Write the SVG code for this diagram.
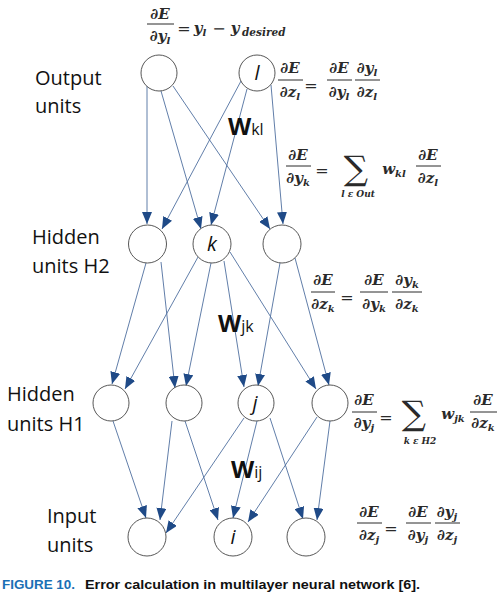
<svg xmlns="http://www.w3.org/2000/svg" width="500" height="595" viewBox="0 0 500 595">
<defs>
<marker id="ah" markerUnits="userSpaceOnUse" markerWidth="12" markerHeight="10" refX="12" refY="5" orient="auto">
<path d="M0,0 L12,5 L0,10 z" fill="#1f4a87"/>
</marker>
<style>
.node circle{fill:#fff;stroke:#444;stroke-width:0.9}
.edge{stroke:#4f6f9f;stroke-width:0.9;fill:none;marker-end:url(#ah)}
.lbl{font-family:"Open Sans","DejaVu Sans",sans-serif;font-size:20px;fill:#111}
.nl{font-family:"Open Sans","DejaVu Sans",sans-serif;font-size:20px;font-style:italic;fill:#111;text-anchor:middle}
.w{font-family:"Open Sans","DejaVu Sans",sans-serif;font-size:24px;font-weight:700;fill:#111}
.ws{font-size:16px;font-weight:400}
.m{font-family:"DejaVu Serif","Liberation Serif",serif;font-size:15px;font-style:italic;font-weight:bold;fill:#2a2a2a;text-anchor:middle}
.ms{font-family:"DejaVu Serif","Liberation Serif",serif;font-size:10.5px;font-style:italic;font-weight:bold;fill:#2a2a2a;text-anchor:start}
.mo{font-family:"DejaVu Serif","Liberation Serif",serif;font-size:16px;fill:#2a2a2a;text-anchor:middle}
.s{font-size:10px}
.fl{stroke:#2a2a2a;stroke-width:1}
.sig{font-family:"DejaVu Serif","Liberation Serif",serif;font-size:34px;fill:#2a2a2a;text-anchor:middle}
.lim{font-family:"DejaVu Serif","Liberation Serif",serif;font-size:9px;font-style:italic;font-weight:bold;fill:#2a2a2a;text-anchor:middle}
</style>
</defs>
<rect width="500" height="595" fill="#fff"/>

<g id="labels">
<text class="lbl" x="35" y="85">Output</text>
<text class="lbl" x="35" y="113">units</text>
<text class="lbl" x="32" y="244">Hidden</text>
<text class="lbl" x="32" y="273">units H2</text>
<text class="lbl" x="7" y="401">Hidden</text>
<text class="lbl" x="7" y="431">units H1</text>
<text class="lbl" x="47" y="523">Input</text>
<text class="lbl" x="47" y="552">units</text>
</g>

<g id="connectors">
<line class="edge" x1="147" y1="86" x2="147" y2="224"/>
<line class="edge" x1="161" y1="91" x2="201" y2="229"/>
<line class="edge" x1="173" y1="86" x2="270" y2="229"/>
<line class="edge" x1="241" y1="81" x2="162" y2="229"/>
<line class="edge" x1="247" y1="89" x2="211" y2="225"/>
<line class="edge" x1="271" y1="85" x2="283" y2="224"/>

<line class="edge" x1="146" y1="263" x2="112" y2="384"/>
<line class="edge" x1="161" y1="262" x2="175" y2="388"/>
<line class="edge" x1="198" y1="257" x2="125" y2="389"/>
<line class="edge" x1="211" y1="263" x2="186" y2="386"/>
<line class="edge" x1="224" y1="261" x2="244" y2="387"/>
<line class="edge" x1="230" y1="252" x2="316" y2="389"/>
<line class="edge" x1="280" y1="263" x2="258" y2="386"/>
<line class="edge" x1="295" y1="258" x2="329" y2="385"/>

<line class="edge" x1="113" y1="421" x2="146" y2="518"/>
<line class="edge" x1="172" y1="421" x2="160" y2="520"/>
<line class="edge" x1="185" y1="421" x2="218" y2="520"/>
<line class="edge" x1="244" y1="418" x2="166" y2="533"/>
<line class="edge" x1="257" y1="421" x2="233" y2="518"/>
<line class="edge" x1="270" y1="418" x2="303" y2="519"/>
<line class="edge" x1="317" y1="417" x2="248" y2="522"/>
<line class="edge" x1="330" y1="421" x2="317" y2="520"/>
</g>

<g id="node-o1" class="node"><circle cx="159" cy="73" r="18"/></g>
<g id="node-l" class="node"><circle cx="257" cy="73" r="18"/><text class="nl" x="257" y="80">l</text></g>

<g id="node-h2a" class="node"><circle cx="147.5" cy="244" r="19"/></g>
<g id="node-k" class="node"><circle cx="212" cy="244" r="19"/><text class="nl" x="212" y="251">k</text></g>
<g id="node-h2c" class="node"><circle cx="282" cy="244" r="19"/></g>

<g id="node-h1a" class="node"><circle cx="111" cy="403" r="18"/></g>
<g id="node-h1b" class="node"><circle cx="184" cy="403" r="18"/></g>
<g id="node-j" class="node"><circle cx="256" cy="403" r="18"/><text class="nl" x="255" y="410">j</text></g>
<g id="node-h1d" class="node"><circle cx="330" cy="403" r="18"/></g>

<g id="node-in1" class="node"><circle cx="147" cy="537" r="19"/></g>
<g id="node-i" class="node"><circle cx="233" cy="537" r="19"/><text class="nl" x="233" y="544">i</text></g>
<g id="node-in3" class="node"><circle cx="306" cy="537" r="19"/></g>

<g id="weights">
<text class="w" x="228" y="135">W<tspan class="ws">kl</tspan></text>
<text class="w" x="218" y="332">W<tspan class="ws">jk</tspan></text>
<text class="w" x="231" y="478">W<tspan class="ws">ij</tspan></text>
</g>

<g id="eq1">
<text class="m" x="160" y="19">∂E</text>
<line class="fl" x1="147" y1="24" x2="174" y2="24"/>
<text class="m" x="160" y="41">∂y<tspan class="s" dy="3">l</tspan></text>
<text class="mo" x="184" y="34">=</text>
<text class="m" x="200" y="33">y<tspan class="s" dy="3">l</tspan></text>
<text class="mo" x="219" y="34">−</text>
<text class="m" x="235" y="33">y</text>
<text class="ms" x="242" y="36">desired</text>
</g>

<g id="eq2">
<text class="m" x="290" y="73">∂E</text>
<line class="fl" x1="278" y1="80" x2="303" y2="80"/>
<text class="m" x="290" y="97">∂z<tspan class="s" dy="3">l</tspan></text>
<text class="mo" x="311" y="91">=</text>
<text class="m" x="339" y="73">∂E</text>
<line class="fl" x1="327" y1="80" x2="352" y2="80"/>
<text class="m" x="339" y="97">∂y<tspan class="s" dy="3">l</tspan></text>
<text class="m" x="367" y="73">∂y<tspan class="s" dy="3">l</tspan></text>
<line class="fl" x1="355" y1="80" x2="380" y2="80"/>
<text class="m" x="367" y="97">∂z<tspan class="s" dy="3">l</tspan></text>
</g>

<g id="eq3">
<text class="m" x="298" y="160">∂E</text>
<line class="fl" x1="286" y1="166" x2="311" y2="166"/>
<text class="m" x="298" y="183">∂y<tspan class="s" dy="3">k</tspan></text>
<text class="mo" x="322" y="176">=</text>
<text class="sig" x="356" y="180">∑</text>
<text class="lim" x="358" y="197">l ε Out</text>
<text class="m" x="394" y="174">w<tspan class="s" dy="3">kl</tspan></text>
<text class="m" x="428" y="160">∂E</text>
<line class="fl" x1="416" y1="166" x2="441" y2="166"/>
<text class="m" x="428" y="183">∂z<tspan class="s" dy="3">l</tspan></text>
</g>

<g id="eq4">
<text class="m" x="323" y="285">∂E</text>
<line class="fl" x1="311" y1="292" x2="335" y2="292"/>
<text class="m" x="323" y="309">∂z<tspan class="s" dy="3">k</tspan></text>
<text class="mo" x="347" y="303">=</text>
<text class="m" x="374" y="285">∂E</text>
<line class="fl" x1="360" y1="292" x2="388" y2="292"/>
<text class="m" x="374" y="309">∂y<tspan class="s" dy="3">k</tspan></text>
<text class="m" x="407" y="285">∂y<tspan class="s" dy="3">k</tspan></text>
<line class="fl" x1="392" y1="292" x2="422" y2="292"/>
<text class="m" x="407" y="309">∂z<tspan class="s" dy="3">k</tspan></text>
</g>

<g id="eq5">
<text class="m" x="364" y="405">∂E</text>
<line class="fl" x1="352" y1="412" x2="377" y2="412"/>
<text class="m" x="364" y="428">∂y<tspan class="s" dy="3">j</tspan></text>
<text class="mo" x="386" y="423">=</text>
<text class="sig" x="414" y="425">∑</text>
<text class="lim" x="420" y="444">k ε H2</text>
<text class="m" x="453" y="419">w<tspan class="s" dy="3">jk</tspan></text>
<text class="m" x="483" y="405">∂E</text>
<line class="fl" x1="470" y1="412" x2="497" y2="412"/>
<text class="m" x="483" y="428">∂z<tspan class="s" dy="3">k</tspan></text>
</g>

<g id="eq6">
<text class="m" x="369" y="517">∂E</text>
<line class="fl" x1="357" y1="523" x2="382" y2="523"/>
<text class="m" x="369" y="540">∂z<tspan class="s" dy="3">j</tspan></text>
<text class="mo" x="391" y="534">=</text>
<text class="m" x="418" y="517">∂E</text>
<line class="fl" x1="406" y1="523" x2="431" y2="523"/>
<text class="m" x="418" y="540">∂y<tspan class="s" dy="3">j</tspan></text>
<text class="m" x="447" y="517">∂y<tspan class="s" dy="3">j</tspan></text>
<line class="fl" x1="435" y1="523" x2="460" y2="523"/>
<text class="m" x="447" y="540">∂z<tspan class="s" dy="3">j</tspan></text>
</g>

<g id="caption">
<text x="2" y="589" font-family="'Liberation Sans',Arial,sans-serif" font-size="12" font-weight="bold" fill="#1a6fb5" textLength="73" lengthAdjust="spacingAndGlyphs">FIGURE 10.</text>
<text x="85" y="589" font-family="'Liberation Sans',Arial,sans-serif" font-size="12" font-weight="bold" fill="#111" textLength="335" lengthAdjust="spacingAndGlyphs">Error calculation in multilayer neural network [6].</text>
</g>
</svg>
